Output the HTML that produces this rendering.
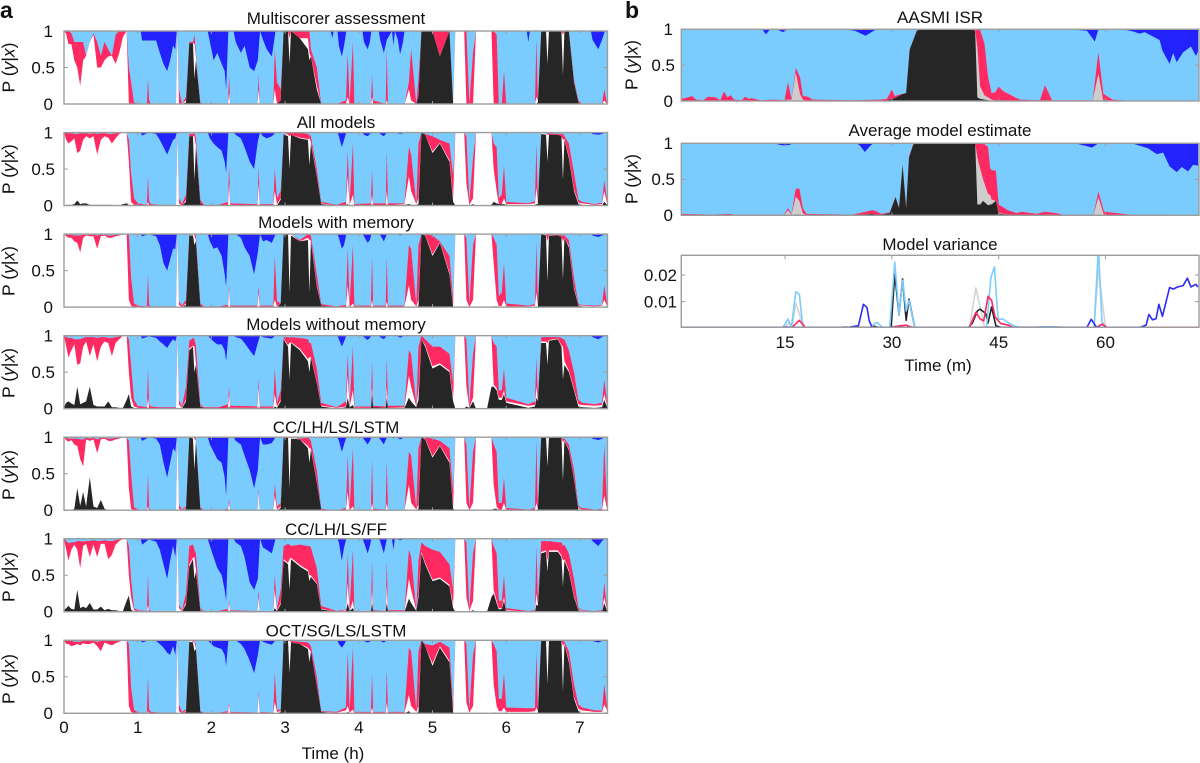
<!DOCTYPE html>
<html lang="en">
<head>
<meta charset="utf-8">
<title>Sleep stage probability charts</title>
<style>
html,body{margin:0;padding:0;background:#fff;}
svg{display:block;font-family:"Liberation Sans",sans-serif;fill:#111;filter:blur(0.35px);}
.title{font-size:17px;text-anchor:middle;}
.tick{font-size:17px;}
.ylab{font-size:17.5px;text-anchor:middle;}
.letter{font-size:23px;font-weight:bold;}
</style>
</head>
<body>
<svg id="figure" width="1200" height="763" viewBox="0 0 1200 763" xmlns="http://www.w3.org/2000/svg">
  <rect width="1200" height="763" fill="#fff"/>
  <g id="marks"></g>
  <text class="letter" x="0" y="18">a</text>
  <text class="letter" x="625" y="18">b</text>

  <text class="title" x="336" y="24">Multiscorer assessment</text>
  <text class="title" x="336" y="128">All models</text>
  <text class="title" x="336" y="228">Models with memory</text>
  <text class="title" x="336" y="330">Models without memory</text>
  <text class="title" x="336" y="433">CC/LH/LS/LSTM</text>
  <text class="title" x="336" y="535">CC/LH/LS/FF</text>
  <text class="title" x="336" y="636.5">OCT/SG/LS/LSTM</text>
  <text class="title" x="940" y="23">AASMI ISR</text>
  <text class="title" x="940" y="136">Average model estimate</text>
  <text class="title" x="940" y="250">Model variance</text>

  <text class="title" x="333" y="759">Time (h)</text>
  <text class="title" x="938" y="371">Time (m)</text>

  <text class="ylab" transform="translate(14.5,67.5) rotate(-90)">P (<tspan font-style="italic">y</tspan>|<tspan font-style="italic">x</tspan>)</text>
  <text class="ylab" transform="translate(14.5,169.2) rotate(-90)">P (<tspan font-style="italic">y</tspan>|<tspan font-style="italic">x</tspan>)</text>
  <text class="ylab" transform="translate(14.5,271) rotate(-90)">P (<tspan font-style="italic">y</tspan>|<tspan font-style="italic">x</tspan>)</text>
  <text class="ylab" transform="translate(14.5,373) rotate(-90)">P (<tspan font-style="italic">y</tspan>|<tspan font-style="italic">x</tspan>)</text>
  <text class="ylab" transform="translate(14.5,475) rotate(-90)">P (<tspan font-style="italic">y</tspan>|<tspan font-style="italic">x</tspan>)</text>
  <text class="ylab" transform="translate(14.5,577) rotate(-90)">P (<tspan font-style="italic">y</tspan>|<tspan font-style="italic">x</tspan>)</text>
  <text class="ylab" transform="translate(14.5,679) rotate(-90)">P (<tspan font-style="italic">y</tspan>|<tspan font-style="italic">x</tspan>)</text>
  <text class="ylab" transform="translate(637.5,65) rotate(-90)">P (<tspan font-style="italic">y</tspan>|<tspan font-style="italic">x</tspan>)</text>
  <text class="ylab" transform="translate(637.5,179) rotate(-90)">P (<tspan font-style="italic">y</tspan>|<tspan font-style="italic">x</tspan>)</text>
</svg>
<script>
/* ---------- shared axis categories ---------- */
const hourTicks = [0,1,2,3,4,5,6,7];
const probTicks = [0,0.5,1];
const probTickLabels = ["0","0.5","1"];
const minuteTicks = [15,30,45,60];
const varianceTicks = [0.01,0.02];
const varianceTickLabels = ["0.01","0.02"];

/* time knots (hours) for black / white / red boundaries of panel a */
const hours = [
 0,.03,.06,.1,.14,.18,.22,.26,.3,.35,.4,.45,.5,.55,.6,.65,.7,.75,.8,.85,
 .88,.91,.95,1.0,1.125,1.14,1.155,1.18,1.3,1.52,
 1.54,1.56,1.6,1.655,1.7,1.75,1.77,1.79,1.85,1.9,
 2.1,2.225,2.24,2.255,2.625,2.64,2.655,2.84,2.86,2.89,
 2.94,2.98,3.04,3.06,3.08,3.2,3.31,3.33,3.35,3.43,3.49,
 3.7,3.825,3.85,3.875,3.92,3.94,4.165,4.18,4.195,4.365,4.38,4.395,
 4.62,4.68,4.71,4.78,4.81,4.85,4.9,5.0,5.1,5.23,
 5.28,5.31,5.43,5.46,5.5,5.55,5.59,5.74,5.8,5.83,5.87,5.9,5.94,5.97,6.0,
 6.3,6.39,6.41,6.43,6.475,6.54,6.56,6.58,6.7,6.75,6.77,6.79,6.85,6.92,6.98,7.03,7.2,7.3,7.33,7.37
];
/* time knots (hours) for the deep-sleep blue band hanging from the top */
const blueHours = [
 1.04,1.06,1.15,1.25,1.3,1.35,1.4,1.44,1.48,1.51,1.53,
 1.95,1.98,2.03,2.08,2.14,2.18,2.2,2.23,
 2.3,2.33,2.4,2.45,2.52,2.58,2.63,2.66,2.7,2.75,2.82,2.87,
 3.62,3.64,3.66,3.71,3.73,3.77,3.8,3.83,
 4.05,4.07,4.12,4.15,4.17,4.27,4.29,4.34,4.38,4.45,4.47,4.49,4.53,4.56,4.6,4.62,
 6.28,6.3,6.32,7.15,7.17,7.25,7.3,7.34
];

/* ---------- Multiscorer assessment ---------- */
const multiRed = [
 1,1,1,.97,.85,.85,.85,.85,.66,.85,.97,.85,.66,.85,.75,.66,.95,1,1,1,
 .5,.3,.02,0,0,.35,.05,0,0,0,
 1,.2,0,.1,.85,.85,.95,.7,.02,0,
 0,0,.4,0,0,.4,0,0,.75,.3,
 .2,1,1,1,1,1,1,1,.75,.5,0,
 0,.05,.7,0,.85,0,0,.4,.05,0,.75,0,
 0,.3,.75,0,.35,1,1,1,1,1,
 0,1,1,1,0,.7,1,1,1,1,.95,0,0,.45,0,
 0,0,.9,.05,1,1,1,1,1,1,1,1,1,.35,.05,0,0,0,.2,0
];
const multiWhite = [
 1,.96,.82,.82,.6,.5,.25,.6,.66,.85,.95,.5,.5,.6,.65,.66,.55,.7,.92,1,
 0,0,0,0,0,0,0,0,0,0,
 1,0,0,.05,.83,.83,.83,.65,0,0,
 0,0,.15,0,0,.2,0,0,.2,0,
 .05,1,1,.9,1,.9,.9,.7,.65,.25,0,
 0,0,.1,0,0,0,0,.1,0,0,.05,0,
 0,.2,.05,0,.1,1,1,1,.65,1,
 0,1,1,0,0,0,1,1,1,0,0,0,0,0,0,
 0,0,.1,.05,1,1,.98,1,1,1,.95,1,1,.32,.02,0,0,0,.05,0
];
const multiBlack = [
 0,0,0,0,0,0,0,0,0,0,0,0,0,0,0,0,0,0,0,0,
 0,0,0,0,0,0,0,0,0,0,
 0,0,0,.02,.83,.83,.35,.6,0,0,
 0,0,0,0,0,0,0,0,0,0,
 .05,1,1,.55,1,.9,.75,.6,.65,.2,0,
 0,0,0,0,0,0,0,0,0,0,0,0,
 0,0,0,0,.1,1,1,1,.65,1,
 0,0,0,0,0,0,0,0,0,0,0,0,0,0,0,
 0,0,0,.02,1,1,.55,1,1,1,.4,1,1,.3,.02,0,0,0,0,0
];
const multiBlue = [
 0,.13,.13,.13,.3,.45,.55,.4,.2,.25,0,
 0,.15,.4,.3,.45,.55,.8,0,
 0,.15,.3,.2,.5,.55,.4,0,.12,.25,.35,0,
 0,.1,0,0,.2,.35,.2,0,
 0,.15,.25,.15,0,0,.12,.3,.12,0,.2,0,.12,.32,.15,0,
 0,.15,0,0,.12,.25,.12,0
];

/* ---------- All models ---------- */
const allRed = [
 1,1,.99,.99,.98,.98,.99,.99,.99,.98,.99,.98,.99,.99,.98,.98,.99,1,1,1,
 .9,.45,.1,.03,.01,.4,.06,.02,.01,.01,
 1,.1,.02,.15,.98,.98,.99,.93,.08,.01,
 .01,.05,.55,.03,.02,.55,.02,.02,.5,.1,
 .2,1,1,1,1,1,.98,.97,.95,.5,.05,
 .01,.05,.75,.02,.85,.02,.03,.5,.03,.03,.75,.03,
 .03,.8,.7,.03,.85,1,.98,.95,.9,.85,
 .4,1,1,.95,.05,.65,1,1,1,.85,.8,.1,.15,.55,.05,
 .03,.06,.85,.08,1,.98,.98,.99,.98,.98,.98,.95,.85,.45,.08,.05,.02,.04,.35,.05
];
const allWhite = [
 1,.9,.85,.88,.92,.72,.75,.9,.95,.92,.95,.7,.9,.95,.93,.85,.92,.98,1,1,
 .6,.05,.01,0,0,.05,0,0,0,0,
 1,.03,0,.07,.95,.95,.95,.82,.03,0,
 0,0,.3,.01,0,.3,0,0,.2,.02,
 .1,1,.97,.95,.97,.93,.91,.92,.87,.41,.03,
 0,.01,.4,.01,.15,0,0,.15,.01,0,.2,0,
 .02,.4,.2,.02,.1,1,.97,.74,.86,.62,
 .1,1,1,.3,.01,.1,1,1,1,.5,.2,.02,.02,.1,.02,
 .02,.03,.25,.03,1,.98,.97,.97,.97,.95,.9,.91,.67,.22,.04,.03,.01,.02,.2,.02
];
const allBlack = [
 0,.01,.01,.01,.02,.07,.02,.03,.03,.01,.01,.01,.01,.01,.01,.01,.005,0,.02,.03,
 .01,0,0,0,0,0,0,0,0,0,
 0,0,0,.05,.95,.95,.35,.8,.03,0,
 0,0,0,0,0,0,0,0,0,0,
 .08,.98,.95,.5,.97,.92,.9,.55,.85,.4,.02,
 0,.01,.02,0,0,0,0,.02,0,0,.02,0,
 .01,.02,.01,.01,.02,1,.97,.72,.85,.6,
 .05,0,0,0,0,.02,0,0,.01,.05,.03,.02,.02,.02,.01,
 0,.01,.02,.02,.98,.97,.6,.97,.97,.95,.35,.9,.65,.2,.02,.01,0,0,.05,.01
];
const allBlue = [
 0,.04,0,.02,.1,.2,.3,.2,.1,.08,0,
 0,.08,.15,.2,.25,.4,.55,0,
 0,.03,.08,.2,.4,.5,.12,0,.05,.08,.05,0,
 0,0,0,0,.05,.2,.1,0,
 0,.03,.05,.02,0,0,.02,.05,0,0,.01,0,.01,.02,.01,0,
 0,.01,0,0,.02,.03,.02,0
];

/* ---------- Models with memory ---------- */
const memRed = [
 1,1,.99,.99,.98,.98,.98,.99,.99,.99,.99,.98,.99,.99,.98,.98,.99,.99,1,1,
 1,.4,.05,.02,.01,.45,.03,.01,.01,.01,
 1,.08,.02,.1,.98,1,1,.98,.05,.01,
 .01,.03,.3,.02,.02,.3,.02,.02,.7,.08,
 .05,1,1,1,1,.92,1,1,.98,.45,.04,
 .01,.03,.8,.02,.85,.02,.02,.7,.02,.02,.7,.02,
 .02,.85,.8,.03,.85,1,1,.98,.9,.7,
 .1,1,1,.95,.05,.85,1,1,1,.95,.85,.15,.2,.6,.05,
 .02,.04,.9,.05,1,1,1,1,.99,.98,.98,.98,.92,.4,.05,.03,.02,.03,.3,.03
];
const memWhite = [
 1,.97,.95,.95,.9,.88,.75,.95,.98,.97,.97,.8,.97,.98,.95,.95,.97,.98,1,1,
 .1,.02,0,0,0,.02,0,0,0,0,
 1,.03,0,.05,.98,1,.98,.92,.02,0,
 0,0,.25,0,0,.2,0,0,.1,.01,
 .05,1,1,1,1,.9,.95,.92,.91,.3,.02,
 0,0,.3,0,.05,0,0,.1,0,0,.08,0,
 .01,.3,.1,.01,.1,1,.99,.72,.89,.47,
 .02,1,1,.1,0,.1,1,1,1,.6,.1,.01,.02,.1,.01,
 .01,.02,.2,.02,1,1,.9,.99,.98,.96,.9,.95,.84,.27,.03,.02,.01,.02,.1,.01
];
const memBlack = [
 0,.01,0,0,0,.01,0,0,0,0,0,0,0,0,0,0,0,0,0,0,
 0,0,0,0,0,0,0,0,0,0,
 0,0,0,.03,.98,.98,.85,.9,.02,0,
 0,0,0,0,0,0,0,0,0,0,
 .05,1,1,.2,.98,.9,.92,.2,.9,.28,.02,
 0,0,0,0,0,0,0,0,0,0,0,0,
 0,.01,0,0,.02,1,.98,.7,.88,.45,
 0,0,0,0,0,0,0,0,0,.01,.01,0,0,0,0,
 0,0,.01,0,1,.98,.35,.98,.98,.96,.38,.95,.82,.25,.02,.01,0,0,.01,0
];
const memBlue = [
 0,.03,0,.03,.15,.4,.5,.35,.2,.2,0,
 0,.1,.2,.18,.3,.55,.72,0,
 0,0,.05,.18,.3,.55,.25,0,.1,.08,.12,0,
 0,0,0,0,.05,.2,.15,0,
 0,.03,.12,.08,0,0,.01,.1,0,0,.01,0,0,.02,0,0,
 0,.01,0,0,.02,.04,.02,0
];

/* ---------- Models without memory ---------- */
const noMemRed = [
 1,.98,.97,.97,.95,.95,.95,.97,.98,.98,.98,.97,.98,.98,.97,.97,.98,.99,1,1,
 .95,.6,.12,.04,.02,.55,.06,.03,.02,.02,
 1,.12,.03,.3,.93,.97,.95,.85,.06,.02,
 .02,.06,.3,.04,.03,.4,.03,.03,.55,.08,
 .25,.98,.98,.97,.98,.97,.95,.9,.9,.55,.08,
 .02,.1,.75,.03,.85,.03,.03,.65,.04,.03,.7,.04,
 .04,.8,.75,.05,.85,1,.95,.85,.85,.75,
 .35,1,1,.95,.05,.75,1,1,1,.9,.85,.25,.25,.55,.15,
 .06,.1,.7,.15,.98,.98,.98,.98,.98,.97,.95,.95,.8,.5,.12,.08,.06,.08,.4,.08
];
const noMemWhite = [
 1,.85,.7,.8,.88,.6,.62,.85,.92,.72,.88,.65,.85,.92,.9,.72,.9,.95,1,1,
 .5,.15,.03,.01,0,.15,.01,0,0,0,
 1,.06,.01,.12,.82,.86,.85,.62,.04,.01,
 0,.01,.2,.01,.01,.3,.01,.01,.2,.03,
 .12,.96,.87,.9,.91,.82,.68,.7,.71,.36,.04,
 .01,.03,.45,.02,.25,.01,.01,.3,.02,.01,.3,.01,
 .02,.45,.3,.03,.25,.95,.87,.58,.62,.52,
 .15,1,1,.3,.02,.15,1,1,1,.33,.28,.15,.15,.25,.1,
 .04,.05,.3,.1,.92,.92,.9,.94,.96,.87,.85,.65,.52,.27,.06,.05,.04,.05,.2,.04
];
const noMemBlack = [
 .02,.08,.1,.07,.05,.3,.06,.08,.1,.3,.05,.03,.03,.03,.1,.02,.02,.01,.01,.12,
 .2,.03,.01,0,0,.02,0,0,0,0,
 0,.01,0,.1,.8,.85,.5,.6,.03,.01,
 0,0,.03,0,0,.02,0,0,.03,.01,
 .1,.95,.85,.4,.9,.8,.65,.5,.7,.35,.03,
 0,.02,.15,.02,.05,0,0,.2,.02,.01,.15,.01,
 .01,.15,.1,.02,.12,.95,.85,.55,.6,.5,
 .1,0,0,.03,.01,.1,0,0,.3,.3,.25,.12,.12,.2,.08,
 .01,.03,.15,.1,.9,.9,.6,.93,.95,.85,.4,.6,.5,.25,.03,.02,.01,.02,.12,.02
];
const noMemBlue = [
 0,.04,.01,.03,.08,.12,.17,.1,.05,.08,0,
 0,.03,.08,.12,.12,.2,.35,0,
 0,.02,.04,.1,.2,.28,.1,0,.02,.03,.04,0,
 0,0,0,0,.05,.15,.08,0,
 0,.02,.06,.03,0,0,.02,.05,0,0,.01,0,.01,.03,.01,0,
 0,.01,0,0,.02,.05,.02,0
];

/* ---------- CC/LH/LS/LSTM ---------- */
const ccLstmRed = [
 1,.99,.98,.98,.98,.98,.97,.97,.99,.98,.99,.97,.99,.99,.98,.98,.99,.99,1,1,
 .95,.5,.04,.01,0,.5,.03,0,0,0,
 1,.08,.01,.05,1,1,1,.98,.04,0,
 0,.02,.15,.01,.01,.3,.01,.01,.35,.05,
 .1,1,1,1,1,.98,.99,.98,.95,.55,.02,
 0,.03,.75,.02,.85,.01,.01,.7,.02,.01,.7,.01,
 .01,.8,.75,.02,.85,1,1,.98,.95,.85,
 .25,1,1,.9,.02,.8,1,1,1,.9,.8,.1,.1,.45,.03,
 .01,.03,.95,.03,1,1,1,1,1,1,.98,.98,.9,.55,.06,.03,.01,.02,.9,.03
];
const ccLstmWhite = [
 1,.96,.94,.96,.9,.88,.7,.6,.97,.95,.97,.78,.97,.98,.95,.95,.97,.98,1,1,
 .3,.02,0,0,0,.05,0,0,0,0,
 1,.02,0,.03,1,1,.98,.95,.02,0,
 0,.01,.1,0,0,.25,0,0,.2,.01,
 .05,1,1,1,1,.97,.88,.85,.84,.39,.01,
 0,.01,.25,0,.05,0,0,.1,0,0,.1,0,
 0,.35,.1,.01,.08,1,.98,.74,.89,.67,
 .05,1,1,.1,0,.1,1,1,1,.35,.05,.01,.01,.1,0,
 0,.01,.1,.01,1,1,.98,1,1,1,.93,.96,.83,.43,.03,.01,0,0,.2,.01
];
const ccLstmBlack = [
 0,0,0,0,.02,.3,.06,.25,.05,.45,.05,.03,.14,.02,0,0,0,0,0,0,
 0,0,0,0,0,0,0,0,0,0,
 0,0,0,.02,1,.98,.55,.95,.02,0,
 0,0,0,0,0,0,0,0,0,0,
 .03,1,1,.3,.98,.97,.85,.65,.83,.38,.01,
 0,0,0,0,0,0,0,0,0,0,0,0,
 0,.01,0,0,.02,1,.97,.72,.88,.65,
 .02,0,0,0,0,0,0,0,0,.02,.02,0,0,0,0,
 0,0,0,0,1,1,.6,1,1,1,.4,.95,.82,.42,.01,0,0,0,.01,0
];
const ccLstmBlue = [
 0,.05,0,.02,.1,.35,.55,.35,.15,.2,0,
 0,.1,.2,.3,.35,.55,.8,0,
 0,.05,.1,.25,.45,.7,.45,0,.1,.1,.08,0,
 0,0,0,0,.05,.2,.1,0,
 0,.03,.1,.05,0,0,.03,.1,0,0,.02,0,.01,.03,.01,0,
 0,.01,0,0,.02,.04,.02,0
];

/* ---------- CC/LH/LS/FF ---------- */
const ccFfRed = [
 1,.97,.94,.95,.95,.97,.97,.96,.97,.97,.98,.97,.97,.98,.97,.97,.98,.99,1,1,
 .9,.45,.05,.02,.01,.5,.03,.01,.01,.01,
 1,.1,.02,.25,.9,.92,.85,.8,.05,.01,
 .01,.04,.15,.02,.01,.3,.01,.01,.5,.05,
 .3,.9,.93,.92,.9,.92,.9,.9,.88,.6,.08,
 .01,.03,.8,.03,.85,.01,.01,.7,.02,.01,.7,.02,
 .02,.85,.75,.03,.7,.95,.9,.85,.82,.65,
 .3,1,1,.95,.03,.8,1,1,1,.9,.8,.15,.15,.5,.05,
 .01,.02,.9,.15,.97,.97,.96,.97,.95,.95,.9,.92,.8,.45,.06,.02,.01,.02,.4,.03
];
const ccFfWhite = [
 1,.85,.7,.85,.92,.85,.6,.9,.93,.75,.92,.75,.93,.93,.72,.78,.92,.97,1,1,
 .5,.2,.02,0,0,.1,0,0,0,0,
 1,.05,.01,.12,.65,.74,.75,.57,.03,0,
 0,.01,.12,.01,0,.2,0,0,.3,.02,
 .12,.72,.67,.72,.74,.64,.57,.5,.5,.39,.04,
 0,.02,.4,.01,.15,0,0,.3,.01,0,.35,.01,
 .01,.45,.3,.02,.25,.82,.67,.44,.47,.37,
 .1,1,1,.2,.01,.15,1,1,1,.3,.15,.05,.05,.2,.02,
 0,.01,.25,.1,.82,.84,.7,.84,.84,.77,.7,.72,.57,.22,.03,.01,0,.01,.2,.02
];
const ccFfBlack = [
 .02,.05,.08,.04,.03,.3,.05,.07,.05,.12,.03,.03,.07,.02,.04,.02,.02,.01,.01,.15,
 .22,.03,0,0,0,.02,0,0,0,0,
 0,.01,0,.1,.62,.72,.45,.55,.02,0,
 0,0,.01,0,0,.02,0,0,.05,.01,
 .1,.7,.65,.3,.72,.62,.55,.42,.48,.38,.03,
 0,.01,.12,.01,.05,0,0,.12,.01,0,.12,.01,
 0,.18,.12,.01,.2,.8,.65,.42,.45,.35,
 .05,0,0,0,0,.02,0,0,.2,.25,.12,.03,.04,.15,.01,
 0,0,.1,.08,.8,.82,.55,.82,.82,.75,.35,.7,.55,.2,.02,0,0,0,.12,.01
];
const ccFfBlue = [
 0,.08,.01,.04,.15,.35,.55,.3,.1,.25,0,
 0,.1,.25,.4,.5,.7,.85,0,
 0,.05,.1,.25,.6,.7,.55,0,.12,.15,.2,0,
 0,0,0,0,.05,.3,.12,0,
 0,.05,.2,.1,0,0,.03,.2,0,0,.15,0,.01,.02,.01,0,
 0,.01,0,0,.03,.1,.03,0
];

/* ---------- OCT/SG/LS/LSTM ---------- */
const octRed = [
 1,.99,.99,.99,.98,.98,.98,.99,.99,.99,.99,.98,.99,.99,.99,.99,.99,1,1,1,
 .95,.35,.05,.01,.01,.5,.05,.02,.01,.01,
 1,.12,.02,.05,1,1,.98,.95,.03,.01,
 .01,.03,.15,.02,.01,.3,.02,.01,.55,.05,
 .05,1,1,1,.99,.98,.97,.95,.92,.5,.03,
 .02,.08,.85,.03,.9,.02,.02,.55,.02,.02,.6,.02,
 .02,.9,.85,.05,.85,1,.95,.93,.98,.9,
 .1,1,1,.95,.05,.8,1,1,1,.95,.85,.2,.2,.55,.08,
 .07,.07,.85,.08,1,1,1,1,1,1,.99,.98,.85,.4,.12,.08,.04,.04,.4,.08
];
const octWhite = [
 1,.95,.95,.92,.93,.95,.93,.96,.95,.95,.97,.92,.85,.97,.95,.93,.96,.98,1,1,
 .1,.02,0,0,0,.03,0,0,0,0,
 1,.03,0,.03,1,.98,.97,.9,.02,0,
 0,.01,.12,.01,0,.25,.01,0,.15,.02,
 .03,1,1,1,.97,.95,.9,.87,.85,.39,.02,
 .01,.04,.1,.01,.05,.01,.01,.08,.01,.01,.15,.01,
 .01,.25,.1,.02,.1,1,.92,.68,.92,.72,
 .03,1,1,.15,.01,.1,1,1,1,.4,.1,.03,.03,.08,.02,
 .02,.03,.08,.03,1,1,.98,1,1,1,.92,.96,.72,.22,.06,.04,.02,.02,.12,.04
];
const octBlack = [
 0,0,0,0,0,0,0,0,0,0,0,0,0,0,0,0,0,0,0,0,
 0,0,0,0,0,0,0,0,0,0,
 0,0,0,.02,.98,.97,.85,.88,.02,0,
 0,0,0,0,0,0,0,0,0,0,
 .02,1,1,.55,.97,.95,.88,.7,.85,.38,.02,
 0,0,.02,0,0,0,0,0,0,0,0,0,
 0,.03,0,0,.02,1,.92,.65,.9,.7,
 .01,0,0,0,0,0,0,0,0,.01,.01,0,0,0,0,
 0,0,0,0,1,1,.4,1,1,1,.3,.95,.7,.2,.03,0,0,0,.01,.01
];
const octBlue = [
 0,.03,0,.01,.05,.1,.17,.2,.08,.2,0,
 0,.03,.08,.1,.12,.2,.35,0,
 0,0,.05,.12,.28,.45,.2,0,.02,.04,.06,0,
 0,0,0,0,.05,.1,.06,0,
 0,.01,.03,.02,0,0,.01,.03,0,0,.01,0,0,.01,0,0,
 0,.01,0,0,.01,.03,.01,0
];

/* ---------- AASMI ISR (panel b) ---------- */
const aasmiMinutes = [
 .4,1.4,1.9,2.5,3.5,
 4.2,5.2,5.9,6.4,6.9,
 7.4,7.8,8.9,9.4,9.9,
 10.3,11.5,13.3,14.9,15.4,
 15.9,16.5,17.1,17.5,18.2,
 18.9,24.5,28.3,29.3,30,
 30.4,31.4,32,32.5,33.5,
 34,41.5,41.7,42,42.4,
 43,43.5,44,44.5,45,
 45.6,47.3,48,50.8,51.5,
 52.5,58.2,59,59.7,61,
 62.3,63,73
];
const aasmiRed = [
 .03,.05,.07,.02,.01,
 .06,.05,.01,.13,.05,
 .08,.02,.01,.06,.03,
 .04,.01,.02,.01,.26,
 .03,.46,.33,.07,.06,
 .02,.01,.02,.03,.16,
 .07,.1,.11,.72,.98,
 1,1,1,1,.99,
 .8,.34,.11,.12,.2,
 .14,.05,.02,.01,.22,
 .01,.01,.68,.1,.02,
 .01,0,0
];
const aasmiGray = [
 0,0,0,0,0,
 0,0,0,0,0,
 0,0,0,0,0,
 0,0,0,0,.02,
 .02,.4,.1,.02,0,
 0,0,0,.01,.03,
 .04,.09,.11,.72,.98,
 1,1,.99,.75,.2,
 .08,.05,.02,.01,0,
 0,0,0,0,0,
 0,.01,.38,0,0,
 0,0,0
];
const aasmiBlack = [
 0,0,0,0,0,
 0,0,0,0,0,
 0,0,0,0,0,
 0,0,0,0,0,
 0,0,0,0,0,
 0,0,0,.01,.03,
 .04,.09,.11,.72,.98,
 1,1,.97,.05,.03,
 .02,.01,0,0,0,
 0,0,0,0,0,
 0,0,0,0,0,
 0,0,0
];
const aasmiBlueMinutes = [11.8,12.3,12.9,14,14.7,15.4,22.3,22.8,23.3,24.8,26.3,27.8,54.8,57.4,58.5,59,62.5,63.9,64.8,65.5,67.6,68,69,69.5,70,70.9,72,72.7,73];
const aasmiBlue = [0,.07,0,.01,.04,0,0,.01,0,.02,.09,0,0,.02,.17,0,0,.03,.06,.04,.15,.3,.48,.33,.46,.32,.24,.37,.31];

/* ---------- Average model estimate (panel b) ---------- */
const avgMinutes = [
 .4,5,7,8,14.9,
 15.4,15.9,16.5,17,17.5,
 18,24.5,27.2,27.7,28.5,
 29.7,30.5,31,31.5,32,
 32.4,33,33.5,41.5,41.7,
 42,42.4,42.8,43.5,43.8,
 44,44.6,45,46.3,47.5,
 48.2,50.3,51.5,53.1,54,
 58.3,59,59.8,61.6,63.4,
 73
];
const avgRed = [
 .02,.01,.02,.01,.01,
 .1,.02,.37,.37,.1,
 .02,.01,.07,.06,.02,
 .04,.26,.11,.7,.11,
 .82,.99,1,1,1,
 1,1,1,.95,.65,
 .63,.62,.15,.07,.03,
 .05,.02,.05,.03,.01,
 .01,.33,.05,.03,.01,
 0
];
const avgGray = [
 0,0,0,0,0,
 .07,.01,.26,.2,.03,
 0,0,.02,.01,.01,
 .03,.25,.1,.7,.1,
 .8,.98,1,1,1,
 .8,.65,.5,.3,.28,
 .22,.2,.03,.01,0,
 0,0,0,0,0,
 0,.25,0,0,0,
 0
];
const avgBlack = [
 0,0,0,0,0,
 0,0,.01,.01,0,
 0,0,.02,.01,.01,
 .03,.25,.1,.7,.1,
 .8,.98,1,1,1,
 .15,.15,.2,.14,.15,
 .15,.2,.02,.01,0,
 0,0,0,0,0,
 0,0,0,0,0,
 0
];
const avgBlueMinutes = [13.5,14.2,14.9,15.7,16,25,25.5,26.2,27,27.4,55.7,57,58.1,59,63.7,66,67.2,68.1,69,70,70.7,71.6,72.3,73];
const avgBlue = [0,.02,.03,.02,0,0,.03,.12,.03,0,0,.03,.06,0,0,.07,.15,.13,.32,.4,.33,.39,.3,.31];

/* ---------- Model variance (panel b) ---------- */
const varGrayMinutes = [.4,15,15.4,16,16.5,17.3,17.8,29.8,30.4,31,31.5,32,32.4,33.2,40.9,41.8,43,58.4,59,60,73];
const varGray = [0,0,.002,.0005,.0094,.003,0,0,.02,.005,.018,.0065,.0105,0,0,.0152,.0005,0,.022,0,0];
const varBlackMinutes = [.4,27,27.5,28,29.9,30.4,31,31.5,32,32.4,33.2,40.8,41.3,42,42.4,43.2,43.5,44,44.6,45.3,73];
const varBlack = [0,0,.0008,0,0,.0205,.005,.0185,.003,.011,0,0,.002,.0065,.0072,.0055,.002,.008,.001,0,0];
const varLightBlueMinutes = [.4,14.7,15.4,15.9,16.5,17,17.5,27,27.6,28,28.6,29.7,30.4,31,31.5,32,32.4,33.2,43.3,43.9,44.4,44.9,45.6,46.4,47.3,48,50,51,53,54,58.4,59,59.5,60,73];
const varLightBlue = [0,0,.0035,.0007,.0137,.0128,0,0,.0018,.0022,0,0,.0248,.005,.018,.0065,.0105,0,0,.019,.023,.0035,.0035,.002,.0008,.0004,.0004,.0006,.0006,0,0,.03,.0025,0,0];
const varRedMinutes = [.4,16,17,17.8,25,26,27,29.8,31,32,32.7,33.2,40.9,41.8,42.4,42.9,43.5,44,44.5,45.3,46.4,47,58.8,59.5,60.2,73];
const varRed = [0,0,.003,0,0,.0002,0,0,.0009,.0012,.0005,0,0,.006,.0035,.0028,.012,.0105,.0042,.0018,.0012,.0002,0,.0016,0,0];
const varBlueMinutes = [.4,14.5,15.2,15.8,23,23.4,23.9,25.3,26,26.5,26.8,27.2,57.4,58,58.7,59.4,64.6,65,65.7,66.1,66.6,67.1,67.5,68,69,69.5,70.1,70.9,71.5,72,72.7,73];
const varBlue = [0,0,.0005,0,0,.0005,0,.001,.009,.0078,.003,.0003,0,.0034,.0006,0,0,.0005,.0012,.0052,.0032,.0036,.009,.0045,.0153,.0147,.0155,.016,.0188,.0155,.0165,.0155];

/* ---------- drawing ---------- */
const SVG_NS = "http://www.w3.org/2000/svg";
const marks = document.getElementById("marks");
const COLORS = {light:"#7accff", blue:"#2222fb", red:"#ff2a62", black:"#262626", gray:"#cdcdcd", white:"#ffffff", frame:"#9c9c9c"};

const xHours = h => 64 + h * 73.7;
const xMinutes = m => 678.3 + m * 7.12;
const yProb = (top, height) => p => top + height * (1 - p);
const yVariance = v => 327.3 - (Math.max(v, 0.0004) - 0.0004) * 2670;

function svgEl(tag, attrs, parent) {
  const el = document.createElementNS(SVG_NS, tag);
  for (const k in attrs) el.setAttribute(k, attrs[k]);
  parent.appendChild(el);
  return el;
}
function areaPath(ts, vs, xFn, yFn, baseVal) {
  let pts = xFn(ts[0]).toFixed(2) + "," + yFn(baseVal).toFixed(2);
  for (let i = 0; i < ts.length; i++) pts += " " + xFn(ts[i]).toFixed(2) + "," + yFn(vs[i]).toFixed(2);
  pts += " " + xFn(ts[ts.length - 1]).toFixed(2) + "," + yFn(baseVal).toFixed(2);
  return pts;
}
function drawFrame(group, x0, x1, top, bottom) {
  const fr = svgEl("rect", {x:x0, y:top, width:x1 - x0, height:bottom - top, fill:"none", stroke:COLORS.frame, "stroke-width":1.4}, group);
  
  
}
function tickMark(group, x1, y1, x2, y2) {
  const t = svgEl("line", {x1, y1, x2, y2, stroke:COLORS.frame, "stroke-width":1}, group);
  
  
}
function tickLabel(group, x, y, anchor, str) {
  const t = svgEl("text", {x, y, "text-anchor":anchor, class:"tick"}, group);
  t.textContent = str;
  
  
}
function drawStack(group, cfg) {
  const y = yProb(cfg.top, cfg.height);
  const bg = svgEl("rect", {x:cfg.x0, y:cfg.top, width:cfg.x1 - cfg.x0, height:cfg.height, fill:COLORS.light}, group);
  
  

  const red = svgEl("polygon", {points:areaPath(cfg.t, cfg.red, cfg.xFn, y, 0), fill:COLORS.red}, group);
  
  

  const mid = svgEl("polygon", {points:areaPath(cfg.t, cfg.mid, cfg.xFn, y, 0), fill:cfg.midColor}, group);
  
  

  const black = svgEl("polygon", {points:areaPath(cfg.t, cfg.black, cfg.xFn, y, 0), fill:COLORS.black}, group);
  
  

  const yTop = v => y(1 - v);
  const blue = svgEl("polygon", {points:areaPath(cfg.blueT, cfg.blue, cfg.xFn, yTop, 0), fill:COLORS.blue}, group);
  
  

  probTicks.forEach((p, i) => {
    tickMark(group, cfg.x0, y(p), cfg.x0 + 4, y(p));
    tickMark(group, cfg.x1, y(p), cfg.x1 - 4, y(p));
    tickLabel(group, cfg.labelX - (p === 0.5 ? 0 : 2), y(p) + 5.8, "end", probTickLabels[i]);
  });
  cfg.xTicks.forEach(v => {
    tickMark(group, cfg.xFn(v), cfg.top, cfg.xFn(v), cfg.top + 3);
    tickMark(group, cfg.xFn(v), cfg.top + cfg.height, cfg.xFn(v), cfg.top + cfg.height - 3);
  });
  drawFrame(group, cfg.x0, cfg.x1, cfg.top, cfg.top + cfg.height);
}

/* panel a */
const panelA = [
  {red:multiRed, mid:multiWhite, black:multiBlack, blue:multiBlue},
  {red:allRed, mid:allWhite, black:allBlack, blue:allBlue},
  {red:memRed, mid:memWhite, black:memBlack, blue:memBlue},
  {red:noMemRed, mid:noMemWhite, black:noMemBlack, blue:noMemBlue},
  {red:ccLstmRed, mid:ccLstmWhite, black:ccLstmBlack, blue:ccLstmBlue},
  {red:ccFfRed, mid:ccFfWhite, black:ccFfBlack, blue:ccFfBlue},
  {red:octRed, mid:octWhite, black:octBlack, blue:octBlue}
];
panelA.forEach((p, i) => {
  const g = svgEl("g", {}, marks);
  
  
  drawStack(g, {x0:64, x1:607.5, top:31 + i * 101.55, height:73, t:hours, blueT:blueHours,
    red:p.red, mid:p.mid, black:p.black, blue:p.blue, midColor:COLORS.white, xFn:xHours, xTicks:hourTicks, labelX:55});
});
hourTicks.forEach(h => tickLabel(marks, xHours(h), 733, "middle", String(h)));

/* panel b stacks */
const gAasmi = svgEl("g", {}, marks);


drawStack(gAasmi, {x0:681.3, x1:1199, top:29.3, height:71.7, t:aasmiMinutes, blueT:aasmiBlueMinutes,
  red:aasmiRed, mid:aasmiGray, black:aasmiBlack, blue:aasmiBlue, midColor:COLORS.gray, xFn:xMinutes, xTicks:minuteTicks, labelX:675});

const gAvg = svgEl("g", {}, marks);


drawStack(gAvg, {x0:681.3, x1:1199, top:143.3, height:72, t:avgMinutes, blueT:avgBlueMinutes,
  red:avgRed, mid:avgGray, black:avgBlack, blue:avgBlue, midColor:COLORS.gray, xFn:xMinutes, xTicks:minuteTicks, labelX:675});

/* variance panel */
const gVar = svgEl("g", {}, marks);


const defs = svgEl("defs", {}, gVar);
const clip = svgEl("clipPath", {id:"varClip"}, defs);
svgEl("rect", {x:681.3, y:255.3, width:517.7, height:72.6}, clip);
const varSeries = [
  {t:varGrayMinutes, v:varGray, c:"#d4d4d4"},
  {t:varBlackMinutes, v:varBlack, c:"#262626"},
  {t:varLightBlueMinutes, v:varLightBlue, c:"#7accff"},
  {t:varRedMinutes, v:varRed, c:COLORS.red},
  {t:varBlueMinutes, v:varBlue, c:"#2b2bf5"}
];
varSeries.forEach(s => {
  const pts = s.t.map((m, i) => xMinutes(m).toFixed(2) + "," + yVariance(s.v[i]).toFixed(2)).join(" ");
  const line = svgEl("polyline", {points:pts, fill:"none", stroke:s.c, "stroke-width":1.6, "stroke-linejoin":"round", "clip-path":"url(#varClip)"}, gVar);
  
  
});
varianceTicks.forEach((v, i) => {
  tickMark(gVar, 681.3, yVariance(v), 685.3, yVariance(v));
  tickMark(gVar, 1199, yVariance(v), 1195, yVariance(v));
  tickLabel(gVar, 677, yVariance(v) + 6, "end", varianceTickLabels[i]);
});
minuteTicks.forEach(m => {
  tickMark(gVar, xMinutes(m), 255.3, xMinutes(m), 259.3);
  tickLabel(gVar, xMinutes(m), 348, "middle", String(m));
});
drawFrame(gVar, 681.3, 1199, 255.3, 327.3);
</script>
</body>
</html>
